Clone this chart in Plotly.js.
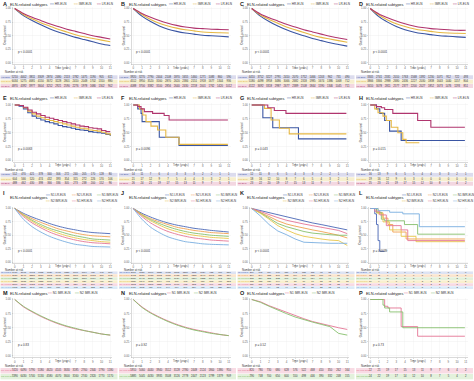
<!DOCTYPE html>
<html><head><meta charset="utf-8">
<script src="https://cdn.plot.ly/plotly-3.0.1.min.js"></script>
<style>html,body{margin:0;padding:0;background:#fff}#c{width:474px;height:381px}</style>
</head><body><div id="c"></div>
<script>
// ---------------- data ----------------
const timeTicks = [0,1,2,3,4,5,6,7,8,9,10,11];
const halfTicks = [0,0.5,1,1.5,2,2.5,3,3.5,4,4.5,5,5.5,6,6.5,7,7.5,8,8.5,9,9.5,10,10.5,11];
const yTickVals = [0,0.25,0.5,0.75,1];
const yTickText = ['0.00','0.25','0.50','0.75','1.00'];
const names3 = ['HR-ELN','IMR-ELN','LR-ELN'];
const names6 = ['N1 LR-ELN','N2 LR-ELN','N1 IMR-ELN','N2 IMR-ELN','N1 HR-ELN','N2 HR-ELN'];
const names2 = ['N1 IMR-ELN','N2 IMR-ELN'];
const panelTags = ['A','B','C','D','E','F','G','H','I','J','K','L','M','N','O','P'];
const pValues = ['p < 0.0001','p < 0.0001','p < 0.0001','p < 0.0001','p = 0.0063','p = 0.0096','p = 0.043','p = 0.015',
                 'p < 0.0001','p < 0.0001','p < 0.0001','p = 0.0039','p = 0.83','p = 0.92','p = 0.52','p = 0.73'];

// Panel A
const A_HR  = [1,0.87,0.78,0.70,0.63,0.57,0.52,0.47,0.43,0.39,0.35,0.32];
const A_IMR = [1,0.89,0.81,0.74,0.68,0.62,0.57,0.52,0.48,0.45,0.42,0.39];
const A_LR  = [1,0.91,0.84,0.78,0.72,0.67,0.62,0.58,0.54,0.50,0.47,0.44];
const A_riskHR  = [5210,4402,3811,3309,2874,2480,2113,1782,1475,1190,905,611];
const A_riskIMR = [6034,5275,4681,4150,3672,3228,2801,2410,2048,1702,1310,880];
const A_riskLR  = [4870,4392,3977,3604,3252,2921,2590,2276,1978,1680,1302,902];
// Panel B
const B_HR  = [1,0.86,0.76,0.68,0.62,0.58,0.55,0.53,0.51,0.50,0.49,0.48];
const B_IMR = [1,0.89,0.80,0.73,0.68,0.64,0.61,0.59,0.57,0.56,0.555,0.55];
const B_LR  = [1,0.91,0.84,0.78,0.73,0.69,0.66,0.64,0.63,0.62,0.615,0.61];
const B_riskHR  = [3920,3270,2790,2404,2108,1870,1655,1460,1271,1083,860,590];
const B_riskIMR = [4512,3950,3520,3160,2870,2620,2384,2151,1918,1677,1344,936];
const B_riskLR  = [4088,3700,3382,3100,2856,2640,2430,2218,2001,1762,1420,1012];
// Panel C
const C_HR  = [1,0.86,0.76,0.68,0.61,0.55,0.50,0.45,0.41,0.37,0.34,0.31];
const C_IMR = [1,0.88,0.80,0.73,0.66,0.61,0.56,0.51,0.47,0.44,0.41,0.38];
const C_LR  = [1,0.90,0.83,0.77,0.71,0.66,0.61,0.57,0.53,0.49,0.46,0.43];
const C_riskHR  = [4410,3752,3227,2791,2410,2070,1752,1466,1203,962,731,490];
const C_riskIMR = [5180,4498,3958,3486,3066,2682,2318,1985,1674,1386,1068,712];
const C_riskLR  = [4122,3692,3318,2987,2677,2389,2108,1844,1590,1346,1045,711];
// Panel D
const D_HR  = [1,0.85,0.75,0.67,0.61,0.57,0.54,0.52,0.50,0.49,0.48,0.47];
const D_IMR = [1,0.88,0.79,0.72,0.67,0.63,0.60,0.58,0.56,0.55,0.545,0.54];
const D_LR  = [1,0.90,0.83,0.77,0.72,0.68,0.65,0.63,0.62,0.61,0.60,0.60];
const D_riskHR  = [3305,2741,2331,2010,1763,1568,1392,1230,1071,912,722,493];
const D_riskIMR = [3866,3366,2988,2680,2436,2227,2030,1838,1643,1440,1157,804];
const D_riskLR  = [3410,3078,2811,2577,2377,2200,2027,1852,1673,1476,1193,851];
// Panel E (half-year steps)
const E_HR  = [1,0.98,0.93,0.86,0.80,0.76,0.73,0.70,0.68,0.66,0.63,0.61,0.60,0.58,0.56,0.55,0.54,0.52,0.51,0.50,0.49,0.47,0.44];
const E_IMR = [1,0.99,0.95,0.89,0.84,0.80,0.77,0.74,0.72,0.70,0.68,0.66,0.64,0.62,0.60,0.58,0.57,0.55,0.54,0.53,0.51,0.48,0.45];
const E_LR  = [1,0.99,0.96,0.91,0.87,0.84,0.81,0.78,0.76,0.74,0.72,0.70,0.68,0.66,0.64,0.62,0.61,0.59,0.58,0.57,0.54,0.52,0.52];
const E_riskHR  = [512,470,421,378,340,306,272,240,205,170,128,80];
const E_riskIMR = [604,566,520,474,432,393,354,315,272,226,170,106];
const E_riskLR  = [488,462,430,398,366,336,305,273,238,200,152,96];
// Panel F (steps)
const F_HR_t  = [0,0.52,0.9,1.02,3.0,5.27,10.9];
const F_HR_s  = [1,0.93,0.85,0.70,0.42,0.27,0.27];
const F_IMR_t = [0,0.72,1.1,1.47,2.04,2.8,3.75,5.27,10.9];
const F_IMR_s = [1,0.93,0.82,0.70,0.62,0.55,0.42,0.29,0.29];
const F_LR_t  = [0,0.52,0.9,1.28,2.23,3.56,4.13,10.9];
const F_LR_s  = [1,0.97,0.93,0.88,0.85,0.81,0.73,0.73];
const F_riskHR  = [14,11,7,6,4,3,3,3,2,2,1,1];
const F_riskIMR = [21,17,12,9,7,5,4,4,3,3,2,1];
const F_riskLR  = [26,24,21,19,17,15,13,11,9,7,5,3];
// Panel G
const G_HR_t  = [0,1.28,2.42,5.38,10.9];
const G_HR_s  = [1,0.77,0.59,0.39,0.39];
const G_IMR_t = [0,1.47,2.23,3.18,4.32,10.9];
const G_IMR_s = [1,0.94,0.73,0.58,0.48,0.48];
const G_LR_t  = [0,1.85,2.6,3.94,10.9];
const G_LR_s  = [1,0.95,0.90,0.85,0.85];
const G_riskHR  = [12,11,8,6,5,4,3,3,2,2,1,1];
const G_riskIMR = [18,16,12,10,8,7,6,5,4,3,2,1];
const G_riskLR  = [23,22,20,19,17,15,13,11,9,7,5,3];
// Panel H
const H_HR_t  = [0,0.72,1.1,1.66,2.23,3.56,10.9];
const H_HR_s  = [1,0.93,0.85,0.72,0.53,0.36,0.36];
const H_IMR_t = [0,0.52,0.9,1.47,1.85,2.42,3.18,3.75,4.13,5.65];
const H_IMR_s = [1,0.93,0.86,0.80,0.72,0.60,0.50,0.38,0.32,0.32];
const H_LR_t  = [0,0.72,1.28,1.66,2.6,5.46,6.98,10.9];
const H_LR_s  = [1,0.97,0.95,0.92,0.85,0.72,0.60,0.60];
const H_riskHR  = [16,13,9,6,5,5,4,4,3,3,2,1];
const H_riskIMR = [19,16,12,9,6,3,0,0,0,0,0,0];
const H_riskLR  = [25,23,21,19,17,15,12,10,8,6,4,2];
// Panel I (order of names6)
const I_N1LR  = [1,0.91,0.84,0.78,0.72,0.67,0.63,0.60,0.57,0.55,0.54,0.53];
const I_N2LR  = [1,0.89,0.81,0.74,0.68,0.62,0.58,0.54,0.51,0.49,0.48,0.47];
const I_N1IMR = [1,0.88,0.78,0.70,0.63,0.58,0.53,0.49,0.46,0.43,0.42,0.41];
const I_N2IMR = [1,0.87,0.76,0.67,0.60,0.54,0.49,0.45,0.42,0.40,0.38,0.37];
const I_N1HR  = [1,0.85,0.73,0.64,0.56,0.50,0.45,0.41,0.38,0.36,0.35,0.34];
const I_N2HR  = [1,0.80,0.66,0.56,0.48,0.42,0.37,0.33,0.31,0.29,0.285,0.28];
const I_risk1 = [2410,2168,1962,1782,1620,1471,1330,1196,1064,930,745,510];
const I_risk2 = [2980,2640,2355,2110,1892,1695,1511,1340,1175,1013,800,543];
const I_risk3 = [3350,2930,2580,2280,2016,1780,1565,1370,1186,1010,790,528];
const I_risk4 = [1820,1585,1390,1222,1076,946,828,720,620,524,406,270];
const I_risk5 = [2160,1866,1622,1418,1243,1090,952,826,708,596,460,305];
const I_risk6 = [1705,1386,1140,950,800,680,580,495,420,352,270,180];
// Panel J
const J_N1LR  = [1,0.91,0.84,0.78,0.73,0.69,0.66,0.63,0.61,0.59,0.575,0.56];
const J_N2LR  = [1,0.89,0.81,0.75,0.70,0.65,0.62,0.59,0.57,0.55,0.54,0.53];
const J_N1IMR = [1,0.88,0.79,0.72,0.66,0.61,0.57,0.54,0.52,0.50,0.49,0.48];
const J_N2IMR = [1,0.87,0.77,0.69,0.62,0.57,0.53,0.50,0.48,0.46,0.45,0.44];
const J_N1HR  = [1,0.85,0.73,0.64,0.57,0.52,0.48,0.45,0.43,0.41,0.40,0.39];
const J_N2HR  = [1,0.80,0.65,0.55,0.47,0.42,0.38,0.36,0.34,0.33,0.325,0.32];
const J_risk1 = [2011,1820,1660,1525,1408,1305,1210,1118,1024,922,760,531];
const J_risk2 = [2412,2150,1938,1762,1615,1488,1370,1256,1140,1018,836,584];
const J_risk3 = [2780,2448,2180,1962,1784,1634,1496,1364,1232,1094,892,621];
const J_risk4 = [1530,1340,1188,1064,962,876,798,724,651,575,466,322];
const J_risk5 = [1802,1566,1378,1226,1103,1000,908,822,737,649,524,362];
const J_risk6 = [1416,1162,980,846,744,664,596,534,476,418,336,230];
// Panel K
const K_N1LR  = [1,0.96,0.92,0.88,0.84,0.80,0.77,0.73,0.70,0.67,0.64,0.60];
const K_N2LR  = [1,0.93,0.85,0.77,0.71,0.67,0.63,0.60,0.57,0.54,0.50,0.45];
const K_N1IMR = [1,0.92,0.82,0.72,0.66,0.61,0.57,0.54,0.52,0.51,0.50,0.50];
const K_N2IMR = [1,0.91,0.80,0.68,0.60,0.53,0.48,0.45,0.43,0.41,0.40,0.31];
const K_N1HR  = [1,0.94,0.88,0.83,0.78,0.74,0.71,0.68,0.65,0.62,0.59,0.53];
const K_N2HR  = [1,0.86,0.70,0.58,0.51,0.43,0.37,0.36,0.35,0.35,0.35,0.35];
const K_risk1 = [210,198,184,170,156,142,128,113,98,82,60,36];
const K_risk2 = [264,244,222,201,182,164,146,128,110,91,66,40];
const K_risk3 = [312,284,252,222,196,174,154,134,114,94,68,41];
const K_risk4 = [152,138,120,104,91,80,70,61,52,43,31,18];
const K_risk5 = [186,166,142,120,102,87,75,65,55,45,32,19];
const K_risk6 = [96,80,64,52,44,37,31,26,22,18,13,7];
// Panel L (steps)
const L_N1LR_t  = [0,0.52,0.72,0.9,1.1,1.66];
const L_N1LR_s  = [1,0.90,0.70,0.40,0.20,0.20];
const L_N2LR_t  = [0,0.72,1.47,2.04,2.6,4.13,10.9];
const L_N2LR_s  = [1,0.92,0.82,0.70,0.56,0.43,0.43];
const L_N1IMR_t = [0,0.72,1.28,1.66,3.94,5.46,10.9];
const L_N1IMR_s = [1,0.93,0.80,0.77,0.70,0.52,0.52];
const L_N2IMR_t = [0,0.9,1.47,2.23,3.56,5.27,10.9];
const L_N2IMR_s = [1,0.90,0.75,0.60,0.48,0.38,0.38];
const L_N1HR_t  = [0,0.52,1.1,1.85,3.56,4.32,10.9];
const L_N1HR_s  = [1,0.95,0.88,0.68,0.60,0.40,0.40];
const L_N2HR_t  = [0,0.9,2.23,3.75,5.65,10.9];
const L_N2HR_s  = [1,0.96,0.93,0.90,0.66,0.66];
const L_risk1 = [6,4,2,0,0,0,0,0,0,0,0,0];
const L_risk2 = [12,11,9,8,7,6,5,4,3,3,2,1];
const L_risk3 = [14,12,10,8,6,5,4,4,3,2,2,1];
const L_risk4 = [11,9,7,6,5,4,3,3,2,2,1,1];
const L_risk5 = [8,7,6,5,4,3,3,2,2,1,1,0];
const L_risk6 = [9,9,8,8,7,6,5,4,4,3,2,1];
// Panel M
const M_N1 = [1,0.87,0.78,0.70,0.63,0.57,0.52,0.48,0.45,0.42,0.39,0.37];
const M_N2 = [1,0.88,0.79,0.71,0.64,0.58,0.53,0.49,0.45,0.42,0.39,0.37];
const M_risk1 = [7420,6490,5790,5180,4620,4105,3630,3185,2760,2340,1790,1180];
const M_risk2 = [7390,6430,5740,5130,4580,4070,3600,3160,2740,2320,1770,1170];
// Panel N
const N_N1 = [1,0.87,0.77,0.69,0.62,0.56,0.51,0.47,0.44,0.41,0.38,0.36];
const N_N2 = [1,0.86,0.76,0.68,0.61,0.55,0.50,0.46,0.43,0.40,0.38,0.36];
const N_risk1 = [5910,5060,4440,3940,3512,3128,2780,2448,2124,1800,1380,910];
const N_risk2 = [5885,5045,4430,3935,3508,3126,2778,2447,2123,1799,1379,909];
// Panel O
const O_N1 = [1,0.96,0.89,0.83,0.77,0.71,0.66,0.61,0.57,0.53,0.50,0.47];
const O_N2 = [1,0.95,0.88,0.81,0.75,0.69,0.64,0.60,0.56,0.52,0.40,0.37];
const O_risk1 = [820,780,730,680,628,576,522,468,410,350,262,164];
const O_risk2 = [790,748,700,650,600,550,498,446,390,332,248,155];
// Panel P (steps)
const P_N1_t = [0,1.66,2.04,3.56,5.46,10.9];
const P_N1_s = [1,0.88,0.85,0.52,0.35,0.35];
const P_N2_t = [0,1.47,1.66,2.23,3.75,10.9];
const P_N2_s = [1,0.90,0.85,0.78,0.50,0.50];
const P_risk1 = [22,21,19,17,15,13,11,9,7,6,4,2];
const P_risk2 = [24,22,19,17,14,12,10,8,7,5,4,2];

// ---------------- styles ----------------
const col3 = ['#3a55a3','#e6b844','#b0356e'];
const band3 = ['#dcdcee','#f7efcf','#f3d7e1'];
const col6 = ['#4a66b5','#f0a050','#86c06c','#e8c64a','#e47594','#78aee0'];
const band6 = ['#dde3f3','#fbe6d0','#e3f1dc','#f9f0cf','#f8dbe4','#dcebf8'];
const col2 = ['#e47594','#86c06c'];
const band2 = ['#f8dbe4','#e3f1dc'];

const panels = [
 {row:0,col:0,kind:'spline',names:names3,colors:col3,bands:band3,curves:[[timeTicks,A_HR],[timeTicks,A_IMR],[timeTicks,A_LR]],risk:[A_riskHR,A_riskIMR,A_riskLR]},
 {row:0,col:1,kind:'spline',names:names3,colors:col3,bands:band3,curves:[[timeTicks,B_HR],[timeTicks,B_IMR],[timeTicks,B_LR]],risk:[B_riskHR,B_riskIMR,B_riskLR]},
 {row:0,col:2,kind:'spline',names:names3,colors:col3,bands:band3,curves:[[timeTicks,C_HR],[timeTicks,C_IMR],[timeTicks,C_LR]],risk:[C_riskHR,C_riskIMR,C_riskLR]},
 {row:0,col:3,kind:'spline',names:names3,colors:col3,bands:band3,curves:[[timeTicks,D_HR],[timeTicks,D_IMR],[timeTicks,D_LR]],risk:[D_riskHR,D_riskIMR,D_riskLR]},
 {row:1,col:0,kind:'hv',names:names3,colors:col3,bands:band3,curves:[[halfTicks,E_HR],[halfTicks,E_IMR],[halfTicks,E_LR]],risk:[E_riskHR,E_riskIMR,E_riskLR]},
 {row:1,col:1,kind:'hv',names:names3,colors:col3,bands:band3,curves:[[F_HR_t,F_HR_s],[F_IMR_t,F_IMR_s],[F_LR_t,F_LR_s]],risk:[F_riskHR,F_riskIMR,F_riskLR]},
 {row:1,col:2,kind:'hv',names:names3,colors:col3,bands:band3,curves:[[G_HR_t,G_HR_s],[G_IMR_t,G_IMR_s],[G_LR_t,G_LR_s]],risk:[G_riskHR,G_riskIMR,G_riskLR]},
 {row:1,col:3,kind:'hv',names:names3,colors:col3,bands:band3,curves:[[H_HR_t,H_HR_s],[H_IMR_t,H_IMR_s],[H_LR_t,H_LR_s]],risk:[H_riskHR,H_riskIMR,H_riskLR]},
 {row:2,col:0,kind:'spline',names:names6,colors:col6,bands:band6,curves:[[timeTicks,I_N1LR],[timeTicks,I_N2LR],[timeTicks,I_N1IMR],[timeTicks,I_N2IMR],[timeTicks,I_N1HR],[timeTicks,I_N2HR]],risk:[I_risk1,I_risk2,I_risk3,I_risk4,I_risk5,I_risk6]},
 {row:2,col:1,kind:'spline',names:names6,colors:col6,bands:band6,curves:[[timeTicks,J_N1LR],[timeTicks,J_N2LR],[timeTicks,J_N1IMR],[timeTicks,J_N2IMR],[timeTicks,J_N1HR],[timeTicks,J_N2HR]],risk:[J_risk1,J_risk2,J_risk3,J_risk4,J_risk5,J_risk6]},
 {row:2,col:2,kind:'linear',names:names6,colors:col6,bands:band6,curves:[[timeTicks,K_N1LR],[timeTicks,K_N2LR],[timeTicks,K_N1IMR],[timeTicks,K_N2IMR],[timeTicks,K_N1HR],[timeTicks,K_N2HR]],risk:[K_risk1,K_risk2,K_risk3,K_risk4,K_risk5,K_risk6]},
 {row:2,col:3,kind:'hv',names:names6,colors:col6,bands:band6,curves:[[L_N1LR_t,L_N1LR_s],[L_N2LR_t,L_N2LR_s],[L_N1IMR_t,L_N1IMR_s],[L_N2IMR_t,L_N2IMR_s],[L_N1HR_t,L_N1HR_s],[L_N2HR_t,L_N2HR_s]],risk:[L_risk1,L_risk2,L_risk3,L_risk4,L_risk5,L_risk6]},
 {row:3,col:0,kind:'spline',names:names2,colors:col2,bands:band2,curves:[[timeTicks,M_N1],[timeTicks,M_N2]],risk:[M_risk1,M_risk2]},
 {row:3,col:1,kind:'spline',names:names2,colors:col2,bands:band2,curves:[[timeTicks,N_N1],[timeTicks,N_N2]],risk:[N_risk1,N_risk2]},
 {row:3,col:2,kind:'linear',names:names2,colors:col2,bands:band2,curves:[[timeTicks,O_N1],[timeTicks,O_N2]],risk:[O_risk1,O_risk2]},
 {row:3,col:3,kind:'hv',names:names2,colors:col2,bands:band2,curves:[[P_N1_t,P_N1_s],[P_N2_t,P_N2_s]],risk:[P_risk1,P_risk2]}
];

// ---------------- geometry (pixels) ----------------
const W = 474, H = 381;
const COLS = [0,118.5,237,355.5];
const ROWS = [
 {lab:4,   top:8.5,   bot:63,    xt:67.5, nar:72,    tTop:75.1,  tBot:88.2,  leg:[4],         legX:[47,71,94], lw:1.1},
 {lab:98,  top:105,   bot:160.5, xt:165,  nar:169.5, tTop:172.5, tBot:186,   leg:[98],        legX:[47,71,94], lw:1.1},
 {lab:193, top:208.5, bot:262,   xt:266,  nar:269.5, tTop:271.2, tBot:289.2, leg:[195,200.5], legX:[43,69,94], lw:0.9},
 {lab:293, top:299.5, bot:356,   xt:361,  nar:365.5, tTop:367.8, tBot:379.8, leg:[293],       legX:[45,72],    lw:0.9}
];
const XR = [-0.2, 11.2];
const PAD = 0.03;
const px = p => p / W, py = p => 1 - p / H;
const ax = n => (n === 1 ? '' : String(n));

const layout = {
  width: W, height: H, margin: {l:0, r:0, t:0, b:0},
  paper_bgcolor: '#ffffff', plot_bgcolor: '#ffffff',
  showlegend: false, hovermode: false,
  font: {family: 'Liberation Sans, Arial, sans-serif', size: 3, color: '#444'},
  annotations: [], shapes: []
};
const data = [];

panels.forEach((P, idx) => {
  const k1 = 2*idx + 1, k2 = 2*idx + 2;
  const R = ROWS[P.row], off = COLS[P.col];
  const xl = off + 13, xr = off + 112;
  const span = R.bot - R.top;
  layout['xaxis' + ax(k1)] = {
    domain: [px(xl), px(xr)], range: XR, anchor: 'y' + ax(k1),
    tickvals: timeTicks, ticktext: timeTicks.map(String),
    tickfont: {size: 2.8, color: '#666'}, ticks: 'outside', ticklen: 1, tickwidth: 0.4, tickcolor: '#aaa',
    showline: true, linecolor: '#b5b5b5', linewidth: 0.5,
    showgrid: true, gridcolor: '#f0f0f0', gridwidth: 0.4, zeroline: false, fixedrange: true
  };
  layout['yaxis' + ax(k1)] = {
    domain: [py(R.bot + PAD*span), py(R.top - PAD*span)], range: [-PAD, 1 + PAD], anchor: 'x' + ax(k1),
    tickvals: yTickVals, ticktext: yTickText,
    tickfont: {size: 2.8, color: '#666'}, ticks: 'outside', ticklen: 1, tickwidth: 0.4, tickcolor: '#aaa',
    showline: true, linecolor: '#b5b5b5', linewidth: 0.5,
    showgrid: true, gridcolor: '#ececec', gridwidth: 0.4, zeroline: false, fixedrange: true
  };
  const s = (xr - xl) / (XR[1] - XR[0]);
  const tl = off + 0.5, tr = off + 117.5;
  const tR = [XR[0] - (xl - tl)/s, XR[1] + (tr - xr)/s];
  const n = P.risk.length;
  layout['xaxis' + k2] = {domain: [px(tl), px(tr)], range: tR, anchor: 'y' + k2, visible: false, fixedrange: true};
  layout['yaxis' + k2] = {domain: [py(R.tBot), py(R.tTop)], range: [n - 0.5, -0.5], anchor: 'x' + k2, visible: false, fixedrange: true};

  P.curves.forEach((c, i) => {
    data.push({type: 'scatter', mode: 'lines', x: c[0], y: c[1], name: P.names[i],
      xaxis: 'x' + ax(k1), yaxis: 'y' + ax(k1),
      line: {color: P.colors[i], width: R.lw, shape: P.kind, smoothing: 0.8}});
  });
  P.risk.forEach((r, i) => {
    layout.shapes.push({type: 'rect', xref: 'x' + k2 + ' domain', yref: 'y' + k2, x0: 0, x1: 1,
      y0: i - 0.46, y1: i + 0.46, fillcolor: P.bands[i], line: {width: 0}, layer: 'below'});
    data.push({type: 'scatter', mode: 'text', x: timeTicks, y: r.map(() => i), text: r.map(String),
      textfont: {size: n === 6 ? 2.3 : 2.7, color: '#333'}, xaxis: 'x' + k2, yaxis: 'y' + k2, cliponaxis: false});
    data.push({type: 'scatter', mode: 'text', x: [tR[0] + 0.05], y: [i], text: [P.names[i]], textposition: 'middle right',
      textfont: {size: n === 6 ? 2.0 : 2.4, color: P.colors[i]}, xaxis: 'x' + k2, yaxis: 'y' + k2, cliponaxis: false});
  });

  const A = layout.annotations;
  A.push({text: '<b>' + panelTags[idx] + '</b>', xref: 'paper', yref: 'paper', x: px(off + 1), y: py(R.lab),
    xanchor: 'left', yanchor: 'middle', showarrow: false, font: {size: 5.5, color: '#222'}});
  const titleY = R.leg.length > 1 ? (R.leg[0] + R.leg[1]) / 2 : R.leg[0];
  A.push({text: 'ELN-related subtypes', xref: 'paper', yref: 'paper', x: px(off + 8), y: py(titleY),
    xanchor: 'left', yanchor: 'middle', showarrow: false, font: {size: 3.9, color: '#222'}});
  P.names.forEach((nm, i) => {
    const nc = R.legX.length;
    const cx = R.legX[i % nc], ry = R.leg[Math.floor(i / nc)];
    A.push({text: '<span style="color:' + P.colors[i] + '">━━</span> ' + nm, xref: 'paper', yref: 'paper',
      x: px(off + cx), y: py(ry), xanchor: 'left', yanchor: 'middle', showarrow: false,
      font: {size: n === 6 ? 2.9 : 3.1, color: '#333'}});
  });
  A.push({text: 'Overall survival', textangle: -90, xref: 'paper', yref: 'paper', x: px(off + 5), y: py((R.top + R.bot)/2),
    xanchor: 'center', yanchor: 'middle', showarrow: false, font: {size: 2.8, color: '#555'}});
  A.push({text: 'Time (years)', xref: 'paper', yref: 'paper', x: px((xl + xr)/2), y: py(R.xt),
    xanchor: 'center', yanchor: 'middle', showarrow: false, font: {size: 2.8, color: '#555'}});
  A.push({text: 'Number at risk', xref: 'paper', yref: 'paper', x: px(off + 3), y: py(R.nar),
    xanchor: 'left', yanchor: 'middle', showarrow: false, font: {size: 2.8, color: '#333'}});
  A.push({text: pValues[idx], xref: 'x' + ax(k1), yref: 'y' + ax(k1), x: 0.1, y: 0.2,
    xanchor: 'left', yanchor: 'middle', showarrow: false, font: {size: 3, color: '#333'}});
});

Plotly.newPlot('c', data, layout, {staticPlot: true, displayModeBar: false});
</script>
</body></html>
